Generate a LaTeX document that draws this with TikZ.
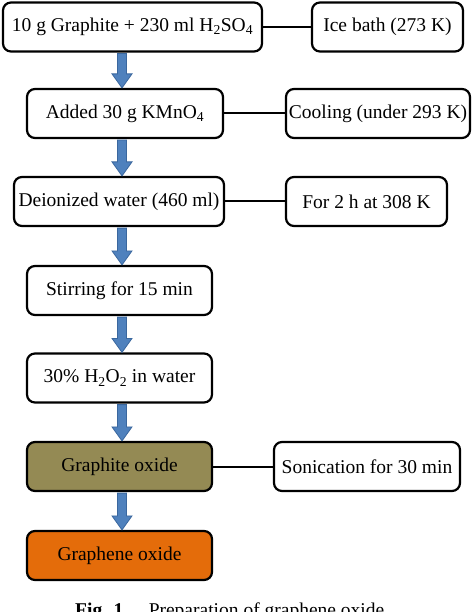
\documentclass[tikz,border=0pt]{standalone}
\usepackage{fontspec}
\setmainfont{Liberation Serif}
\usepackage{tikz}
\usetikzlibrary{calc}
\usepackage{xcolor}

\definecolor{olivebox}{HTML}{948A54}
\definecolor{orangebox}{HTML}{E46C0A}
\definecolor{arrowfill}{HTML}{4F81BD}
\definecolor{arrowline}{HTML}{3A679E}

% block arrow between two stacked steps, on the arrow axis (ax)
\newcommand{\flowarrow}[2]{%
  \filldraw[fill=arrowfill, draw=arrowline, line width=0.8pt]
    ($(#1.south -| ax)+(-4.5,1)$)  -- ($(#2.north -| ax)+(-4.5,-14)$)
    -- ($(#2.north -| ax)+(-10,-14)$) -- ($(#2.north -| ax)+(0,0)$)
    -- ($(#2.north -| ax)+(10,-14)$)  -- ($(#2.north -| ax)+(4.5,-14)$)
    -- ($(#1.south -| ax)+(4.5,1)$)   -- cycle;}

\begin{document}
\begin{tikzpicture}[
  x = 1pt, y = -1pt,
  font          = \fontsize{19.5}{22}\selectfont,
  stepbox/.style = {draw, line width=2.2pt, rounded corners=8pt,
                    minimum height=49pt, inner sep=2pt, align=center},
  sidebox/.style = {stepbox},
  link/.style    = {line width=2pt},
]
\useasboundingbox (0,0) rectangle (474,612);

% Main steps (left column)
\node[stepbox, minimum width=259pt] (graphite) at (132.5, 27)
      {10 g Graphite + 230 ml H\textsubscript{2}SO\textsubscript{4}};
\node[stepbox, minimum width=196pt] (kmno)     at (125, 113.5)
      {Added 30 g KMnO\textsubscript{4}};
\node[stepbox, minimum width=210pt] (water)    at (119, 201.5)
      {Deionized water (460 ml)};
\node[stepbox, minimum width=185pt] (stir)     at (119.5, 290.5)
      {Stirring for 15 min};
\node[stepbox, minimum width=185pt] (peroxide) at (119.5, 378)
      {30\% H\textsubscript{2}O\textsubscript{2} in water};
\node[stepbox, minimum width=185pt, fill=olivebox]  (gtoxide) at (119.5, 466.5)
      {Graphite oxide};
\node[stepbox, minimum width=185pt, fill=orangebox] (gnoxide) at (119.5, 555.5)
      {Graphene oxide};

% Conditions (right column)
\node[sidebox, minimum width=151pt] (icebath)   at (387.5, 27)    {Ice bath (273 K)};
\node[sidebox, minimum width=184pt] (cooling)   at (378, 113.5)   {Cooling (under 293 K)};
\node[sidebox, minimum width=161pt] (heating)   at (366.5, 201.5) {For 2 h at 308 K};
\node[sidebox, minimum width=186pt] (sonicate)  at (367, 466.5)   {Sonication for 30 min};

% ── Links ──────────────────────────────────────────────────────────────
\draw[link] (graphite) -- (icebath);
\draw[link] (kmno)     -- (cooling);
\draw[link] (water)    -- (heating);
\draw[link] (gtoxide)  -- (sonicate);

% ── Flow arrows ────────────────────────────────────────────────────────
\coordinate (ax) at (122, 0);
\flowarrow{graphite}{kmno}
\flowarrow{kmno}{water}
\flowarrow{water}{stir}
\flowarrow{stir}{peroxide}
\flowarrow{peroxide}{gtoxide}
\flowarrow{gtoxide}{gnoxide}

% caption, cut by the page edge
\node[anchor=base west, inner sep=0pt] (caption) at (75, 616)
      {\textbf{Fig. 1}\hspace{1.3em}Preparation of graphene oxide};

\end{tikzpicture}
\end{document}
